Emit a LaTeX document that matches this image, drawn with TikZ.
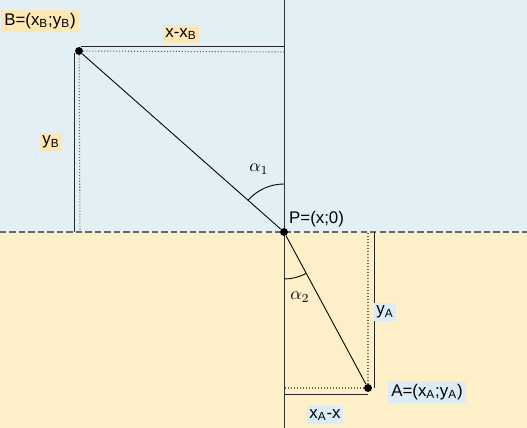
\documentclass[tikz,border=0pt]{standalone}
\usepackage{fontspec}
\setmainfont{Liberation Sans}
\usetikzlibrary{positioning}
\definecolor{sky}{RGB}{226,239,245}
\definecolor{sand}{RGB}{253,239,200}
\definecolor{sandtag}{RGB}{253,231,180}
\definecolor{skytag}{RGB}{220,236,246}
\definecolor{rim}{RGB}{105,105,100}
\definecolor{dots}{RGB}{110,100,80}
\begin{document}
\begin{tikzpicture}[x=0.02cm, y=-0.02cm, font=\fontsize{9.6}{12}\selectfont,
  pt/.style={circle, fill, minimum width=4.5pt, inner sep=0pt},
  dimline/.style={line width=0.45pt, black!85},
  proj/.style={dots, line width=0.6pt, dash pattern=on 0.6pt off 1.1pt},
  sandlabel/.style={fill=sandtag, inner sep=1.6pt},
  skylabel/.style={fill=skytag, inner sep=1.6pt}]
\useasboundingbox (0,0) rectangle (527,428);
\fill[sky] (0,0) rectangle (527,232);
\fill[sand] (0,232) rectangle (527,428);
\coordinate (vtop) at (284,0);
\coordinate (vbot) at (284,428);
\coordinate (wl) at (0,232);
\coordinate (wr) at (527,232);
\draw[line width=0.5pt, black!80] (vtop) -- (vbot);
\draw[rim, line width=1.1pt, dash pattern=on 3.6pt off 1.8pt] (wl) -- (wr);
\node[pt] (B) at (79,51) {};
\node[pt, label={[inner sep=1pt]above right:P=(x;0)}] (P) at (284,232) {};
\node[pt] (A) at (368,388) {};
% projections
\coordinate (Bt) at (284,52);
\coordinate (Bb) at (80,232);
\coordinate (At) at (368,232);
\coordinate (Al) at (284,388);
\draw[proj] (B) -- (Bt);
\draw[proj] (B) -- (Bb);
\draw[proj] (A) -- (At);
\draw[proj] (A) -- (Al);
% dimension lines
\coordinate (d1a) at (81,46);
\coordinate (d1b) at (284,46);
\coordinate (d2a) at (74,53);
\coordinate (d2b) at (74,232);
\coordinate (d3a) at (374,232);
\coordinate (d3b) at (374,388);
\coordinate (d4a) at (284,394);
\coordinate (d4b) at (368,394);
\draw[dimline] (d1a) -- (d1b);
\draw[dimline] (d2a) -- (d2b);
\draw[dimline] (d3a) -- (d3b);
\draw[dimline] (d4a) -- (d4b);
% rays
\draw[line width=0.5pt] (B) -- (P) -- (A);
\draw[line width=0.5pt] ([shift={(270:48)}]P) arc[start angle=270, end angle=221.4, radius=48];
\draw[line width=0.5pt] ([shift={(90:47)}]P) arc[start angle=90, end angle=61.7, radius=47];
\node (a1) at (259,169) {$\alpha_1$};
\node (a2) at (300,297) {$\alpha_2$};
% labels
\node[sandlabel] (Blabel) at (40,21) {B=(x\textsubscript{B};y\textsubscript{B})};
\node[sandlabel] (dxB) at (181,34) {x-x\textsubscript{B}};
\node[sandlabel] (dyB) at (51,142) {y\textsubscript{B}};
\node[skylabel] (dyA) at (385,312) {y\textsubscript{A}};
\node[skylabel] (Alabel) at (427,392) {A=(x\textsubscript{A};y\textsubscript{A})};
\node[skylabel] (dxA) at (325,415) {x\textsubscript{A}-x};
\end{tikzpicture}
\end{document}
